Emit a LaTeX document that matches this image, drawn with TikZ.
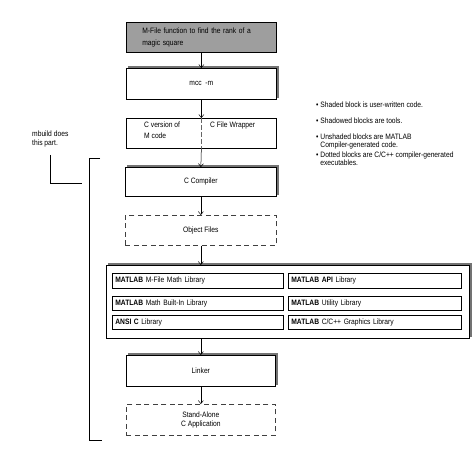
\documentclass[tikz,border=0pt]{standalone}
\usepackage{fontspec}
\setmainfont{Liberation Sans}[FakeStretch=0.86]
\usetikzlibrary{arrows.meta,shadows}
\begin{document}
\begin{tikzpicture}[x=1pt,y=-1pt,
  every node/.style={font=\fontsize{7.8}{9}\selectfont},
  box/.style={draw=black,line width=0.7pt,fill=white,minimum width=150pt,minimum height=30pt,inner sep=0pt,anchor=north west},
  shadowbox/.style={box,copy shadow={shadow xshift=1.8pt,shadow yshift=1.8pt,fill=black!55,draw=black!55}},
  dotbox/.style={box,dashed,dash pattern=on 5pt off 3.5pt,draw=black!75},
  libitem/.style={draw=black,line width=0.7pt,fill=white,inner sep=0pt,anchor=north west,minimum height=14pt},
  lbl/.style={inner sep=0pt,anchor=west},
  arr/.style={-{Straight Barb[length=3pt,width=5pt]},line width=0.5pt},
  ln/.style={line width=0.5pt}]
\useasboundingbox (0,0) rectangle (474,454);
\fill[white] (0,0) rectangle (474,454);

% top shaded box
\node[box,fill=black!38,minimum height=30pt,text width=118pt,inner xsep=16pt,align=left,
  font=\fontsize{7.8}{11.5}\selectfont] (top) at (126,22) {M-File function to find the rank of a\\magic square};

\node[shadowbox,minimum height=31pt] (mcc) at (126,68) {mcc\ \ -m};

\node[box] (cver) at (126,118) {};
\draw[ln,dashed,dash pattern=on 5pt off 2pt,draw=black!60] (cver.north) -- (cver.south);
\node[lbl,anchor=north west,align=left,font=\fontsize{7.8}{11.5}\selectfont] (cverl) at (144,121.5) {C version of\\M code};
\node[lbl,anchor=north west] (cverr) at (210,121.5) {C File Wrapper};

\node[shadowbox,minimum height=29pt,minimum width=151pt] (cc) at (125,167) {C Compiler};
\node[dotbox,minimum width=151pt] (obj) at (125,215) {Object Files};

% library box
\node[shadowbox,minimum width=363pt,minimum height=73pt] (lib) at (106,265) {};
\node[libitem,minimum width=171pt,minimum height=15pt,text width=165pt,inner xsep=3pt] (l1) at (112,273) {\textbf{MATLAB} M-File Math Library};
\node[libitem,minimum width=171pt,text width=165pt,inner xsep=3pt] (l2) at (112,296) {\textbf{MATLAB} Math Built-In Library};
\node[libitem,minimum width=171pt,text width=165pt,inner xsep=3pt] (l3) at (112,315) {\textbf{ANSI C} Library};
\node[libitem,minimum width=173pt,minimum height=15pt,text width=167pt,inner xsep=3pt] (r1) at (288,273) {\textbf{MATLAB API} Library};
\node[libitem,minimum width=173pt,text width=167pt,inner xsep=3pt] (r2) at (288,296) {\textbf{MATLAB} Utility Library};
\node[libitem,minimum width=173pt,text width=167pt,inner xsep=3pt] (r3) at (288,315) {\textbf{MATLAB} C/C++ Graphics Library};

\node[shadowbox,minimum width=149pt,minimum height=31pt] (linker) at (126,355) {Linker};
\node[dotbox,minimum width=149pt,minimum height=31pt,align=center,font=\fontsize{7.8}{9.5}\selectfont] (sa) at (126,404) {Stand-Alone\\C Application};

% arrows
\draw[arr] (top.south) -- (mcc.north);
\draw[arr] (mcc.south) -- (cver.north);
\draw[arr] (cver.south) -- (cc.north);
\draw[arr] (cc.south) -- (obj.north);
\draw[arr] (obj.south) -- (obj.south |- lib.north);
\draw[arr] (linker.north |- lib.south) -- (linker.north);
\draw[arr] (linker.south) -- (sa.north);

% legend
\node[lbl] (g1) at (316,105) {\textbullet\ Shaded block is user-written code.};
\node[lbl] (g2) at (316,120.5) {\textbullet\ Shadowed blocks are tools.};
\node[lbl,anchor=north west,align=left,font=\fontsize{7.8}{8}\selectfont] (g3) at (316,133.5) {\textbullet\ Unshaded blocks are MATLAB\\\phantom{\textbullet\ }Compiler-generated code.};
\node[lbl,anchor=north west,align=left,font=\fontsize{7.8}{8}\selectfont] (g4) at (316,152) {\textbullet\ Dotted blocks are C/C++ compiler-generated\\\phantom{\textbullet\ }executables.};

% mbuild label and bracket
\node[lbl,anchor=north west,align=left,font=\fontsize{7.8}{8.5}\selectfont] (mb) at (32,131) {mbuild does\\this part.};
\coordinate (p1) at (50,155);
\coordinate (p2) at (50,183);
\coordinate (p3) at (82,183);
\draw[ln] (p1) -- (p2) -- (p3);
\coordinate (b1) at (100,158);
\coordinate (b2) at (89,158);
\coordinate (b3) at (89,440);
\coordinate (b4) at (102,440);
\draw[ln] (b1) -- (b2) -- (b3) -- (b4);
\end{tikzpicture}
\end{document}
